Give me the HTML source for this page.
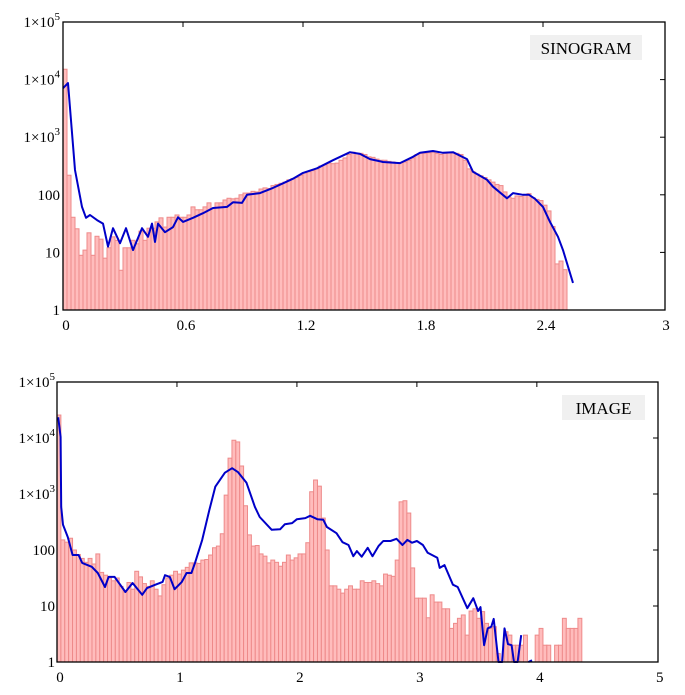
<!DOCTYPE html>
<html><head><meta charset="utf-8"><style>
html,body{margin:0;padding:0;background:#fff;}
svg{display:block;font-family:"Liberation Serif",serif;}
</style></head><body>
<svg id="chart" width="685" height="695" viewBox="0 0 685 695" xmlns="http://www.w3.org/2000/svg"></svg>
<script>
// ---------- data: top (SINOGRAM) ----------
const topBinWidth = 0.02;
const topBarsLog = [4.18,2.34,1.61,1.41,0.95,1.04,1.34,0.95,1.28,1.23,0.9,1.08,1.27,1.21,0.69,1.08,1.08,1.21,1.15,1.37,
1.21,1.42,1.42,1.53,1.6,1.44,1.61,1.61,1.65,1.61,1.61,1.65,1.79,1.74,1.74,1.79,1.86,1.77,1.86,1.86,
1.91,1.94,1.93,1.94,2.0,2.03,2.03,2.06,2.05,2.1,2.12,2.11,2.16,2.18,2.2,2.22,2.26,2.28,2.3,2.34,
2.38,2.4,2.42,2.45,2.5,2.52,2.55,2.54,2.55,2.6,2.64,2.7,2.74,2.72,2.72,2.7,2.66,2.65,2.62,2.6,
2.6,2.58,2.57,2.56,2.56,2.57,2.6,2.64,2.7,2.72,2.72,2.73,2.74,2.72,2.7,2.72,2.74,2.73,2.72,2.7,
2.6,2.45,2.4,2.36,2.33,2.3,2.26,2.22,2.18,2.16,2.05,1.96,1.94,1.98,1.97,2.0,2.02,1.95,1.92,1.9,
1.82,1.72,1.45,0.8,0.85,0.7];
const topLineX = [0,0.025,0.06,0.095,0.115,0.135,0.17,0.2,0.225,0.25,0.285,0.315,0.35,0.395,0.425,0.445,0.46,0.475,0.51,0.55,0.575,0.6,0.65,0.7,0.75,0.82,0.85,0.895,0.92,0.985,1.05,1.1,1.15,1.2,1.27,1.35,1.435,1.485,1.535,1.6,1.685,1.75,1.785,1.85,1.9,1.95,2.02,2.05,2.12,2.15,2.22,2.25,2.3,2.33,2.36,2.4,2.435,2.475,2.5,2.55];
const topLineLog = [3.85,3.94,2.43,1.79,1.6,1.65,1.56,1.5,1.1,1.42,1.16,1.42,1.04,1.42,1.27,1.5,1.18,1.5,1.35,1.44,1.61,1.53,1.6,1.68,1.77,1.79,1.87,1.86,2.0,2.03,2.12,2.2,2.28,2.38,2.46,2.6,2.74,2.71,2.62,2.57,2.55,2.66,2.73,2.76,2.73,2.74,2.62,2.4,2.26,2.14,1.94,2.03,2.0,2.0,1.93,1.79,1.53,1.27,1.04,0.47];
const topXTicks = ["0","0.6","1.2","1.8","2.4","3"];
const topXTickVals = [0,0.6,1.2,1.8,2.4,3];

// ---------- data: bottom (IMAGE) ----------
const botBarsEnd = 4.375;
const botBarsLog = [4.41,2.18,2.14,2.21,2.0,1.92,1.85,1.78,1.85,1.75,1.93,1.6,1.55,1.5,1.45,1.5,1.35,1.25,1.42,1.3,1.62,1.52,1.4,1.35,1.45,1.3,1.18,1.38,1.5,1.55,1.62,
1.57,1.64,1.69,1.77,1.77,1.76,1.82,1.83,1.91,2.04,2.07,2.29,2.98,3.64,3.96,3.93,3.5,2.79,2.27,2.07,2.08,1.93,1.89,1.77,1.82,1.78,1.71,1.78,1.91,1.82,1.86,1.93,1.93,2.13,
3.04,3.25,3.14,2.57,2.0,1.36,1.36,1.3,1.23,1.3,1.36,1.3,1.3,1.45,1.42,1.42,1.45,1.4,1.36,1.57,1.55,1.53,1.82,2.86,2.88,2.66,1.68,1.14,1.14,1.14,0.79,1.2,1.07,
1.07,0.95,0.95,0.6,0.69,0.78,0.84,0.48,0.91,0.95,0.78,0.9,0.69,0.6,0.63,0.15,0,0.54,0.48,0.3,0.3,0.3,0.48,0,0,0.48,0.6,0.3,0.3,0,0.3,0.3,0.78,0.6,0.6,0.6,0.78];
const botLineX = [0.01,0.03,0.035,0.05,0.09,0.13,0.18,0.21,0.29,0.34,0.4,0.43,0.48,0.57,0.63,0.71,0.75,0.82,0.88,0.9,0.94,0.98,1.04,1.08,1.12,1.15,1.21,1.27,1.32,1.4,1.46,1.51,1.58,1.65,1.69,1.79,1.86,1.9,1.96,2.0,2.07,2.11,2.17,2.22,2.25,2.33,2.38,2.43,2.47,2.5,2.54,2.59,2.63,2.68,2.72,2.78,2.83,2.88,2.92,2.96,3.0,3.05,3.09,3.17,3.19,3.23,3.3,3.34,3.42,3.47,3.51,3.53,3.56,3.59,3.62,3.64,3.68,3.71,3.73,3.76,3.79,3.81,3.84,3.87];
const botLineLog = [4.37,4.02,2.77,2.45,2.23,1.91,1.91,1.77,1.7,1.59,1.34,1.52,1.52,1.25,1.41,1.2,1.32,1.38,1.43,1.55,1.52,1.3,1.43,1.59,1.59,1.77,2.18,2.71,3.13,3.38,3.46,3.39,3.2,2.77,2.59,2.36,2.37,2.46,2.48,2.55,2.57,2.61,2.55,2.54,2.41,2.3,2.14,2.09,1.89,1.98,1.88,2.04,1.89,2.07,2.16,2.16,2.2,2.09,2.18,2.13,2.16,2.09,1.95,1.86,1.68,1.73,1.38,1.34,0.96,1.14,0.91,0.98,0.3,0.6,0.63,0.77,0,0,0.6,0.32,0.3,0,0,0.48];
const botLine2X = [3.93,3.96];
const botLine2Log = [0,0.03];
const botXTicks = ["0","1","2","3","4","5"];
const botXTickVals = [0,1,2,3,4,5];
const yTickLabels = ["1","10","100","1×10","1×10","1×10"];
const yTickSup = ["","","","3","4","5"];

const NS="http://www.w3.org/2000/svg";
const svg=document.getElementById('chart');
function mk(tag,attrs,parent){const e=document.createElementNS(NS,tag);for(const k in attrs)e.setAttribute(k,attrs[k]);(parent||svg).appendChild(e);return e;}

function drawPanel(p){
  const g=mk('g',{});
  
  
  const sx=u=>p.x0+(u-p.umin)*(p.x1-p.x0)/(p.umax-p.umin);
  const sy=l=>p.y1-l*(p.y1-p.y0)/5;
  const bars=mk('g',{},g);
  
  
  p.bars.forEach((v,i)=>{
    if(v<=0)return;
    const a=sx(i*p.bw),b=sx((i+1)*p.bw);
    const r=mk('rect',{x:a,y:sy(v),width:b-a,height:sy(0)-sy(v),fill:'#ffbcbc',stroke:'#ee8a8a','stroke-width':1},bars);
    
    
  });
  p.lines.forEach(([xs,ys])=>{
    const d=xs.map((u,i)=>(i?'L':'M')+sx(u).toFixed(1)+','+sy(ys[i]).toFixed(1)).join('');
    const l=mk('path',{d:d,fill:'none',stroke:'#0000c8','stroke-width':2,'stroke-linejoin':'round'},g);
    
    
  });
  const f=mk('rect',{x:p.x0,y:p.y0,width:p.x1-p.x0,height:p.y1-p.y0,fill:'none',stroke:'#000','stroke-width':1.3},g);
  
  
  p.xt.forEach((t,i)=>{
    const x=sx(p.xv[i]);
    if(i>0&&i<p.xt.length-1){const tk=mk('line',{x1:x,y1:p.y0,x2:x,y2:p.y0+5,stroke:'#000'},g);
      }
    const tx=mk('text',{x:x+3,y:p.y1+20,'font-size':15,'text-anchor':'middle'},g);
    tx.textContent=t;
    
    
  });
  yTickLabels.forEach((t,i)=>{
    const y=sy(i);
    if(i>0&&i<5){const tk=mk('line',{x1:p.x1,y1:y,x2:p.x1-5,y2:y,stroke:'#000'},g);
      }
    const tx=mk('text',{x:p.lx,y:y+5,'font-size':15,'text-anchor':'end'},g);
    
    
    tx.appendChild(document.createTextNode(t));
    if(yTickSup[i]){const s=mk('tspan',{dy:-7,'font-size':11},tx);s.textContent=yTickSup[i];}
  });
  const lb=mk('rect',{x:p.leg[0],y:p.leg[1],width:p.leg[2],height:p.leg[3],fill:'#f0f0f0'},g);
  
  
  const lt=mk('text',{x:p.leg[0]+p.leg[2]/2,y:p.leg[1]+19,'font-size':17,'text-anchor':'middle'},g);
  lt.textContent=p.title;
  
  
}

drawPanel({name:'sinogram-panel',x0:63,x1:665,y0:22,y1:310,umin:0,umax:3.01,bw:topBinWidth,bars:topBarsLog,
  lines:[[topLineX,topLineLog]],xt:topXTicks,xv:topXTickVals,lx:60,leg:[530,35,112,25],title:'SINOGRAM'});
drawPanel({name:'image-panel',x0:57,x1:658,y0:382,y1:662,umin:0,umax:5.01,bw:botBarsEnd/botBarsLog.length,bars:botBarsLog,
  lines:[[botLineX,botLineLog],[botLine2X,botLine2Log]],xt:botXTicks,xv:botXTickVals,lx:55,leg:[562,395,83,25],title:'IMAGE'});
</script>
</body></html>
